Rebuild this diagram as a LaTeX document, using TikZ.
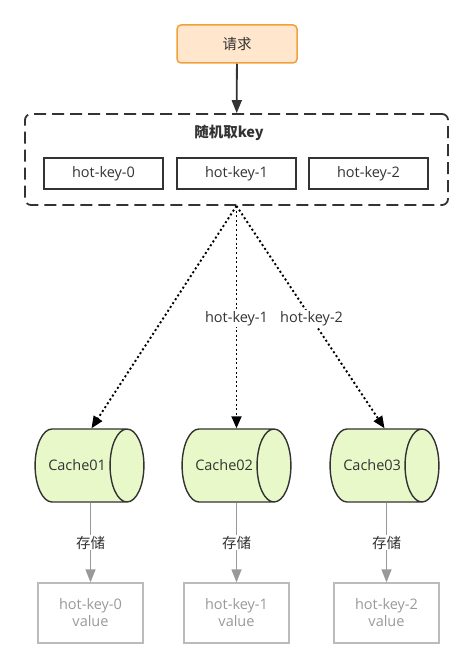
\documentclass[tikz,border=0pt]{standalone}
\usepackage{fontspec}
\setmainfont{Open Sans}
\newfontfamily\cjk{Noto Sans CJK SC}
\usetikzlibrary{arrows.meta, shapes.geometric, positioning}
\definecolor{reqfill}{HTML}{FFE6CC}
\definecolor{reqdraw}{HTML}{F2A03A}
\definecolor{cachefill}{HTML}{E8F8C8}
\definecolor{inkgray}{HTML}{333333}
\definecolor{storegray}{HTML}{999999}
\definecolor{valgray}{HTML}{BBBBBB}
\tikzset{
  txt/.style={font=\fontsize{14.5}{17}\selectfont, text=inkgray},
  keybox/.style={txt, draw=inkgray, line width=1.3pt, minimum width=119pt, minimum height=31pt},
  cachenode/.style={txt, cylinder, shape border rotate=0, draw=inkgray, fill=cachefill, line width=1.4pt,
    minimum width=73pt, minimum height=105pt, aspect=1.9, anchor=shape center},
  valbox/.style={txt, draw=valgray, line width=1.3pt, minimum width=105pt, minimum height=60pt,
    text=storegray, align=center},
  pick/.style={-{Triangle[length=12pt,width=10pt]}, line width=1.9pt, dash pattern=on 2pt off 2.6pt},
  store/.style={-{Triangle[length=13pt,width=10pt]}, draw=storegray, fill=storegray, line width=1.5pt}
}
\begin{document}
\begin{tikzpicture}[x=1pt,y=-1pt]
\useasboundingbox (0,0) rectangle (474,669);
% request
\node[txt, draw=reqdraw, fill=reqfill, line width=1.5pt, rounded corners=4pt,
  minimum width=120pt, minimum height=38pt] (req) at (237,44) {\cjk 请求};
% random pick box
\node[draw=inkgray, line width=1.8pt, dash pattern=on 12pt off 6pt, rounded corners=6pt,
  minimum width=423pt, minimum height=91pt] (pickbox) at (236.5,159.5) {};
\node[txt] (picktitle) at (229,133) {\cjk\bfseries 随机取key};
\node[keybox] (key0) at (103.5,173.5) {hot-key-0};
\node[keybox] (key1) at (236.5,173.5) {hot-key-1};
\node[keybox] (key2) at (368.5,173.5) {hot-key-2};
\draw[-{Triangle[length=13pt,width=10pt]}, line width=1.8pt, inkgray] (req) -- (pickbox);
% caches
\node[cachenode] (cache0) at (89.5,465.5) {Cache01};
\node[cachenode] (cache1) at (236.5,465.5) {Cache02};
\node[cachenode] (cache2) at (384.5,465.5) {Cache03};
\draw[pick] (pickbox.south) -- ([xshift=2pt]cache0.shape center |- cache0.north);
\draw[pick] (pickbox.south) -- node[txt, fill=white, inner sep=1pt, pos=0.507]{hot-key-1} (cache1.shape center |- cache1.north);
\draw[pick] (pickbox.south) -- node[txt, fill=white, inner sep=1pt, pos=0.507]{hot-key-2} (cache2.shape center |- cache2.north);
% values
\node[valbox] (val0) at (90.5,613) {hot-key-0\\value};
\node[valbox] (val1) at (236.5,613) {hot-key-1\\value};
\node[valbox] (val2) at (386.5,613) {hot-key-2\\value};
\foreach \i in {0,1,2}
  \draw[store] (val\i.north |- cache\i.south) -- node[txt, fill=white, inner sep=1pt]{\cjk 存储} (val\i.north);
\end{tikzpicture}
\end{document}
